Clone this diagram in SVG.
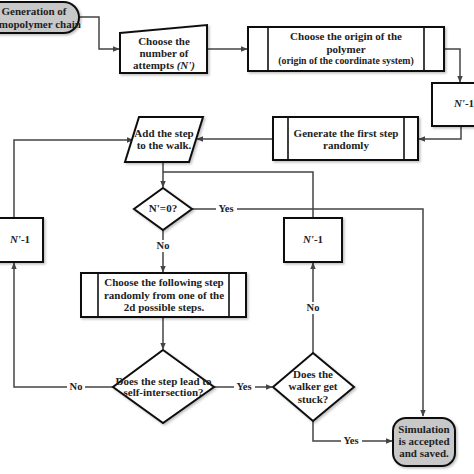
<svg xmlns="http://www.w3.org/2000/svg" width="474" height="474" viewBox="0 0 474 474">
<defs>
<marker id="ah" viewBox="0 0 10 10" refX="9" refY="5" markerWidth="7" markerHeight="7" markerUnits="userSpaceOnUse" orient="auto"><path d="M0,1 L10,5 L0,9 Z" fill="#444"/></marker>
<filter id="sh" x="-10%" y="-10%" width="130%" height="130%"><feDropShadow dx="1.5" dy="1.5" stdDeviation="1.2" flood-color="#000" flood-opacity="0.25"/></filter>
<style>
.s{fill:#fff;stroke:#111;stroke-width:2;filter:url(#sh)}
.g{fill:#c8c8c8;stroke:#111;stroke-width:2;filter:url(#sh)}
.in{stroke:#111;stroke-width:1.6;fill:none}
.c{fill:none;stroke:#444;stroke-width:1.5}
.a{marker-end:url(#ah)}
text{font-family:"Liberation Serif","DejaVu Serif",serif;font-size:11px;font-weight:bold;fill:#222;text-anchor:middle;dominant-baseline:middle}
.sm{font-size:9.8px}
.lb{font-size:10.5px}
</style>
</defs>
<rect width="474" height="474" fill="#fff"/>
<g id="connectors">
<path class="c a" d="M79,17 H99 V49 H119"/>
<path class="c a" d="M207,49 H247"/>
<path class="c a" d="M444,49 H460 V82"/>
<path class="c a" d="M461,126 V139 H419"/>
<path class="c a" d="M273,139 H197"/>
<path class="c a" d="M14,218 V140 H133"/>
<path class="c a" d="M163,162 V187"/>
<path class="c" d="M313,218 V172 H163"/>
<path class="c a" d="M192,209 H423 V416"/>
<path class="c a" d="M163,230 V272"/>
<path class="c a" d="M163,317 V349"/>
<path class="c a" d="M113,387 H14 V263"/>
<path class="c a" d="M214,387 H272"/>
<path class="c a" d="M313,353 V263"/>
<path class="c a" d="M313,421 V441 H392"/>
<g>
<rect x="216" y="203" width="21" height="12" fill="#fff"/><text x="226" y="209.5" class="lb">Yes</text>
<rect x="154" y="240" width="18" height="12" fill="#fff"/><text x="163" y="246.5" class="lb">No</text>
<rect x="67" y="381" width="18" height="12" fill="#fff"/><text x="76" y="387.5" class="lb">No</text>
<rect x="234" y="381" width="21" height="12" fill="#fff"/><text x="244" y="387.5" class="lb">Yes</text>
<rect x="304" y="302" width="18" height="12" fill="#fff"/><text x="313" y="308.5" class="lb">No</text>
<rect x="341" y="435" width="21" height="12" fill="#fff"/><text x="351" y="441.5" class="lb">Yes</text>
</g>
</g>
<g id="start">
<rect class="g" x="-20" y="2" width="99" height="31" rx="15.5"/>
<text x="34" y="12.5">Generation of</text>
<text x="34" y="25">homopolymer chain</text>
</g>
<g id="attempts">
<path class="s" d="M120,33 L207,25 L207,73 L120,73 Z"/>
<text x="164" y="42">Choose the</text>
<text x="164" y="54">number of</text>
<text x="164" y="66">attempts <tspan font-style="italic">(N')</tspan></text>
</g>
<g id="origin">
<rect class="s" x="248" y="27" width="196" height="44"/>
<path class="in" d="M268,27 V71 M424,27 V71"/>
<text x="346" y="37.5">Choose the origin of the</text>
<text x="346" y="50">polymer</text>
<text x="346" y="62" class="sm">(origin of the coordinate system)</text>
</g>
<g id="n1-right">
<rect class="s" x="432" y="83" width="50" height="43"/>
<text x="464" y="104"><tspan font-style="italic">N'</tspan>-1</text>
</g>
<g id="first-step">
<rect class="s" x="273" y="117" width="145" height="43"/>
<path class="in" d="M288,117 V160 M404,117 V160"/>
<text x="346" y="134">Generate the first step</text>
<text x="346" y="146">randomly</text>
</g>
<g id="add-step">
<path class="s" d="M139,117 L203,117 L189,162 L125,162 Z"/>
<text x="164" y="134">Add the step</text>
<text x="164" y="146">to the walk.</text>
</g>
<g id="n-zero">
<path class="s" d="M163,188 L192,209 L163,230 L134,209 Z"/>
<text x="163" y="209.5">N'=0?</text>
</g>
<g id="n1-left">
<rect class="s" x="-6" y="218" width="49" height="44"/>
<text x="20" y="240"><tspan font-style="italic">N'</tspan>-1</text>
</g>
<g id="n1-mid">
<rect class="s" x="284" y="218" width="58" height="44"/>
<text x="313" y="240"><tspan font-style="italic">N'</tspan>-1</text>
</g>
<g id="following-step">
<rect class="s" x="81" y="273" width="165" height="44"/>
<path class="in" d="M98,273 V317 M229,273 V317"/>
<text x="164" y="283.5">Choose the following step</text>
<text x="164" y="296">randomly from one of the</text>
<text x="164" y="308">2d possible steps.</text>
</g>
<g id="self-intersection">
<path class="s" d="M163,350 L214,387 L163,423 L113,387 Z"/>
<text x="163.5" y="382">Does the step lead to</text>
<text x="163.5" y="393.5">self-intersection?</text>
</g>
<g id="stuck">
<path class="s" d="M313,353 L354,387 L313,421 L273,387 Z"/>
<text x="313" y="375">Does the</text>
<text x="313" y="387.5">walker get</text>
<text x="313" y="400">stuck?</text>
</g>
<g id="accepted">
<rect class="g" x="393" y="418" width="62" height="48" rx="13"/>
<text x="424" y="430">Simulation</text>
<text x="424" y="442">is accepted</text>
<text x="424" y="454">and saved.</text>
</g>
</svg>
